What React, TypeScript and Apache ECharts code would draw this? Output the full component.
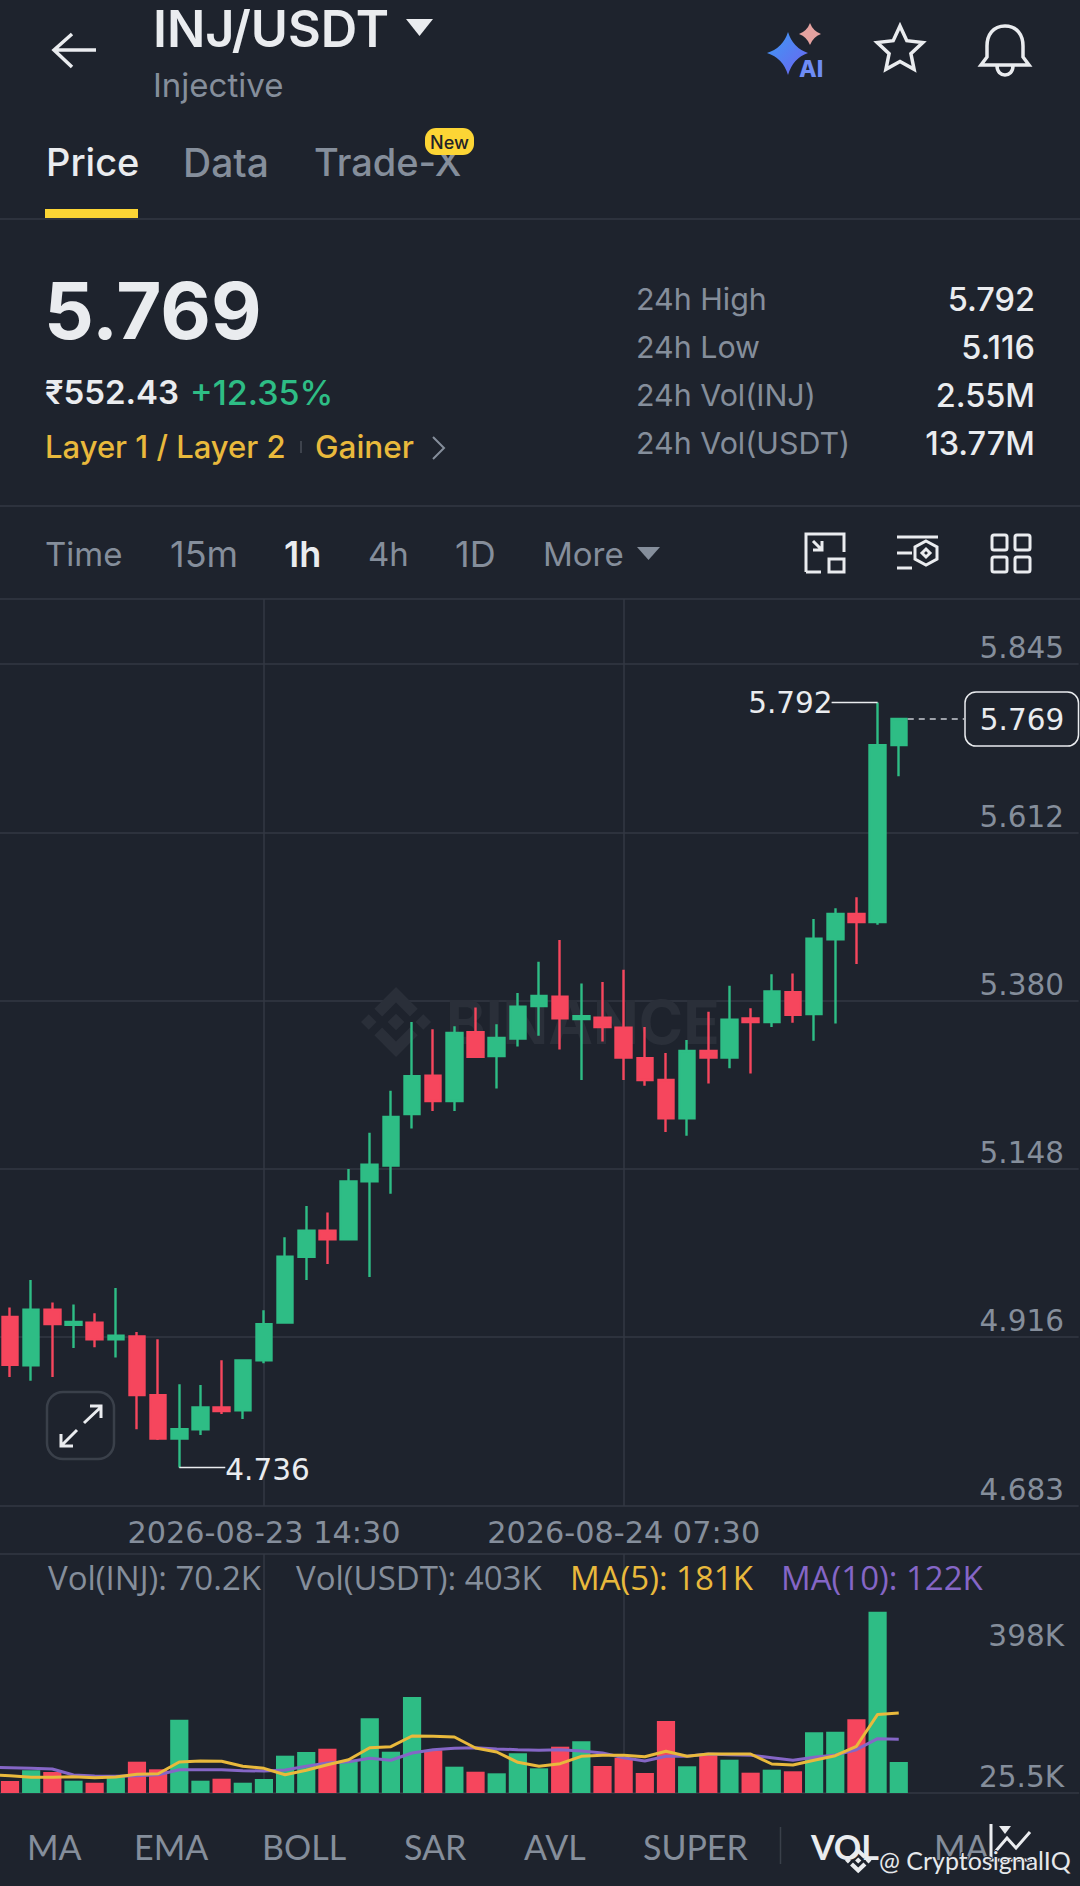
import React, { useEffect, useRef } from "react";
import * as echarts from "echarts";

const times = [
  "2026-08-23 01:30","2026-08-23 02:30","2026-08-23 03:30","2026-08-23 04:30","2026-08-23 05:30","2026-08-23 06:30","2026-08-23 07:30","2026-08-23 08:30","2026-08-23 09:30","2026-08-23 10:30","2026-08-23 11:30","2026-08-23 12:30","2026-08-23 13:30","2026-08-23 14:30",
  "2026-08-23 15:30","2026-08-23 16:30","2026-08-23 17:30","2026-08-23 18:30","2026-08-23 19:30","2026-08-23 20:30","2026-08-23 21:30","2026-08-23 22:30","2026-08-23 23:30","2026-08-24 00:30","2026-08-24 01:30","2026-08-24 02:30","2026-08-24 03:30","2026-08-24 04:30","2026-08-24 05:30","2026-08-24 06:30","2026-08-24 07:30",
  "2026-08-24 08:30","2026-08-24 09:30","2026-08-24 10:30","2026-08-24 11:30","2026-08-24 12:30","2026-08-24 13:30","2026-08-24 14:30","2026-08-24 15:30","2026-08-24 16:30","2026-08-24 17:30","2026-08-24 18:30","2026-08-24 19:30","2026-08-24 20:30",
  "2026-08-24 21:30","2026-08-24 22:30","2026-08-24 23:30","2026-08-25 00:30","2026-08-25 01:30","2026-08-25 02:30","2026-08-25 03:30","2026-08-25 04:30",
];
const shownTimes = ["2026-08-23 14:30", "2026-08-24 07:30"];

// open, close, low, high (the first candle lies just off the left edge, only the MA lines reach into view from it)
const candles = [
  [4.950,4.945,4.930,4.960],
  [4.944,4.878,4.861,4.957],[4.877,4.954,4.856,4.995],[4.954,4.934,4.861,4.964],[4.933,4.937,4.901,4.961],[4.936,4.913,4.902,4.949],
  [4.913,4.918,4.888,4.984],[4.917,4.836,4.789,4.923],[4.836,4.776,4.774,4.913],[4.776,4.789,4.736,4.851],[4.789,4.819,4.781,4.850],
  [4.819,4.814,4.810,4.884],[4.815,4.884,4.803,4.884],[4.884,4.934,4.880,4.953],[4.936,5.027,4.936,5.054],[5.027,5.063,4.995,5.097],
  [5.063,5.051,5.017,5.088],[5.051,5.131,5.051,5.148],[5.131,5.154,4.999,5.198],[5.153,5.220,5.114,5.256],[5.224,5.276,5.204,5.351],
  [5.277,5.242,5.228,5.341],[5.242,5.336,5.228,5.345],[5.337,5.303,5.302,5.371],[5.304,5.329,5.259,5.348],[5.328,5.372,5.317,5.391],
  [5.373,5.387,5.332,5.434],[5.386,5.356,5.313,5.464],[5.355,5.359,5.271,5.404],[5.357,5.344,5.324,5.406],[5.343,5.302,5.271,5.423],
  [5.301,5.271,5.263,5.344],[5.271,5.218,5.199,5.308],[5.218,5.311,5.194,5.326],[5.311,5.302,5.266,5.365],[5.302,5.354,5.287,5.401],
  [5.356,5.351,5.280,5.370],[5.351,5.393,5.344,5.417],[5.392,5.361,5.350,5.418],[5.362,5.466,5.325,5.493],[5.465,5.500,5.349,5.508],
  [5.500,5.489,5.431,5.523],[5.489,5.733,5.485,5.792],[5.733,5.769,5.690,5.769],
];
const volumes = [30,27.2,51.4,47.6,27.9,23.3,36.2,70.9,53.7,166.0,27.9,32.4,23.3,31.7,84.5,92.9,100.3,71.8,169.2,93.5,217.4,96.7,59.6,48.2,44.6,89.9,55.9,104.9,117.1,61.2,79.3,45.3,163.1,60.5,86.7,75.4,46.0,52.8,49.2,137.5,138.8,166.9,410.6,70.2];
const ma5 = [41,39.2,35.6,35.6,36.9,34.7,36.2,42.4,43.7,70.2,72.5,71.8,60.5,55.9,41.4,51.4,64.1,75.4,102.6,104.9,129.1,128.4,126.8,101.9,92.9,69.5,60.5,66.4,83.1,85.4,85.4,82.2,94.5,83.1,88.3,88.3,88.3,65.7,63.4,74.1,84.5,105.8,178,181];
const ma10 = [58,57.3,55.9,54.4,40.8,38.5,37.8,39.2,41.4,52.8,52.8,52.8,50.5,49.8,52.1,60.5,67.9,70.9,78.6,74.1,90.6,98.1,101.2,102.6,99.7,98.1,96.7,98.1,95.1,90.6,80,72.5,83.1,83.1,88.3,86.7,85.4,80,74.1,80.9,86.1,98.1,123,122];
const priceTicks = [4.683, 4.916, 5.148, 5.38, 5.612, 5.845];
const volTicks = [25.5, 398];
const annotations: [number, number, string][] = [[42, 5.792, "high"], [9, 4.736, "low"], [43, 5.769, "last"]];

const statRows = [
  ["24h High", "5.792"],
  ["24h Low", "5.116"],
  ["24h Vol(INJ)", "2.55M"],
  ["24h Vol(USDT)", "13.77M"],
];
const intervals: [string, number, boolean, number][] = [["Time", 45, false, 33], ["15m", 170, false, 36], ["1h", 284, true, 36], ["4h", 368, false, 33], ["1D", 455, false, 36], ["More", 543, false, 33]];
const indicators: [string, number, boolean][] = [["MA", 27, false], ["EMA", 134, false], ["BOLL", 262, false], ["SAR", 404, false], ["AVL", 524, false], ["SUPER", 643, false], ["VOL", 811, true], ["MA", 934, false]];

const BG = "#1E232D";
const GREEN = "#2EBD85";
const RED = "#F6465D";
const GRIDC = "#333943";
const GRAY = "#858E9B";
const WHITE = "#EAECEF";
const YELLOW = "#E9B93C";
const PURPLE = "#8566C6";
const AXIS_FONT = "'DejaVu Sans'";

echarts.graphic.registerShape("binanceLogo", echarts.graphic.extendPath(
  "M63 0L102 39L88 53L63 28L38 53L24 39ZM63 126L102 87L88 73L63 98L38 73L24 87ZM0 63L14 49L28 63L14 77ZM126 63L112 49L98 63L112 77ZM63 48L78 63L63 78L48 63Z", {}));
echarts.graphic.registerShape("bellIcon", echarts.graphic.extendPath(
  "M1005 26C993 26 987 35 987 46L987 57L981 65L1029 65L1023 57L1023 46C1023 35 1017 26 1005 26ZM997 66C997 78 1013 78 1013 66", {}));
echarts.graphic.registerShape("sparkBig", echarts.graphic.extendPath("M788 32Q793 48 808 53Q793 58 788 75Q783 58 767 53Q783 48 788 32Z", {}));
echarts.graphic.registerShape("sparkSmall", echarts.graphic.extendPath("M810 23Q813 31 821 34Q813 37 810 45Q807 37 799 34Q807 31 810 23Z", {}));
echarts.graphic.registerShape("iconSwap", echarts.graphic.extendPath(
  "M806 572L806 534L844 534L844 552M806 572L821 572M829 559H844V572H829ZM813 541L822 550M822 541L822 550L813 550", {}));
echarts.graphic.registerShape("iconSettings", echarts.graphic.extendPath(
  "M897 537H938M897 553H912M897 568H912M926 541L937 547V559L926 565L915 559V547ZM926 549L930 553L926 557L922 553Z", {}));
echarts.graphic.registerShape("iconExpand", echarts.graphic.extendPath(
  "M84 1423L101 1407M90 1406H101V1418M77 1430L61 1446M61 1434V1446H73", {}));
echarts.graphic.registerShape("iconChart", echarts.graphic.extendPath(
  "M991 1824V1860H1032M995 1852L1007 1838L1016 1848L1030 1832", {}));
echarts.graphic.registerShape("iconBack", echarts.graphic.extendPath("M96 50H55M72 34L54 50L72 67", {}));

type TOpt = { align?: string; weight?: number; font?: string; z?: number; stroke?: string; lw?: number };
const txt = (x: number, y: number, text: string, size: number, fill: string, o: TOpt = {}) => ({
  type: "text", x, y, z: o.z ?? 5,
  style: {
    text, fill, fontSize: size, fontFamily: o.font ?? "Inter", fontWeight: o.weight ?? 400,
    textAlign: o.align ?? "left", textVerticalAlign: "middle", align: o.align ?? "left", verticalAlign: "middle",
    stroke: o.stroke, lineWidth: o.lw,
  },
});
const hline = (y: number, x1 = 0, x2 = 1080, c = GRIDC) => ({ type: "line", z: 1, shape: { x1, y1: y, x2, y2: y }, style: { stroke: c, lineWidth: 1.5 } });
const shape = (type: string, style: any, extra: any = {}) => ({ type, z: 5, style, ...extra });

function graphics(): any[] {
  const rowsY = [299, 347, 395, 443.3];
  const els: any[] = [
    // header
    shape("iconBack", { stroke: WHITE, lineWidth: 3.5, fill: "none" }),
    txt(153, 28, "INJ/USDT", 50.5, WHITE, { weight: 600 }),
    { type: "polygon", z: 5, shape: { points: [[406, 19], [433, 19], [419.5, 36]] }, style: { fill: WHITE } },
    txt(153, 85, "Injective", 33, GRAY),
    shape("sparkBig", { fill: new echarts.graphic.LinearGradient(0, 0, 1, 1, [{ offset: 0, color: "#3C9BF5" }, { offset: 1, color: "#6E62EE" }]) }),
    shape("sparkSmall", { fill: "#E5A2A0" }),
    txt(799, 69, "AI", 23, "#6E8CF5", { weight: 800 }),
    { type: "polygon", z: 5, shape: { points: [[900, 26], [906.8, 40.7], [922.8, 42.6], [910.9, 53.6], [914.1, 69.4], [900, 61.5], [885.9, 69.4], [889.1, 53.6], [877.2, 42.6], [893.2, 40.7]] }, style: { stroke: WHITE, lineWidth: 3.5, fill: "none" } },
    shape("bellIcon", { stroke: WHITE, lineWidth: 3.5, fill: "none" }),
    // tabs
    txt(46, 162, "Price", 38, WHITE, { weight: 500 }),
    txt(183, 162, "Data", 39, GRAY, { weight: 500 }),
    txt(314, 162, "Trade-X", 38, GRAY, { weight: 500 }),
    { type: "rect", z: 6, shape: { x: 425, y: 128, width: 49, height: 27, r: 11 }, style: { fill: "#FCD535" } },
    txt(449.5, 142, "New", 18, "#1E2329", { align: "center", weight: 500, z: 7 }),
    { type: "rect", z: 5, shape: { x: 45, y: 209, width: 93, height: 9 }, style: { fill: "#FCD535" } },
    hline(219), hline(506), hline(599), hline(1554),
    // quote
    txt(44, 310, "5.769", 78, WHITE, { weight: 700 }),
    txt(45, 392, "₹552.43", 33, WHITE, { weight: 600 }),
    txt(190, 392, "+12.35%", 34, GREEN, { weight: 500 }),
    txt(45, 446, "Layer 1 / Layer 2", 31, YELLOW, { weight: 500 }),
    { type: "line", z: 5, shape: { x1: 301, y1: 441, x2: 301, y2: 453 }, style: { stroke: "#4A4F58", lineWidth: 1.5 } },
    txt(315, 446, "Gainer", 31.5, YELLOW, { weight: 500 }),
    { type: "polyline", z: 5, shape: { points: [[433, 437], [444, 448], [433, 459]] }, style: { stroke: GRAY, lineWidth: 2, fill: "none" } },
    ...statRows.flatMap((r, i) => [
      txt(636, rowsY[i], r[0], 30.4, GRAY),
      txt(1035, rowsY[i] + 0.5, r[1], 32.5, WHITE, { align: "right", weight: 500 }),
    ]),
    // interval row
    ...intervals.map(([s, x, on, size]) => txt(x, 554, s, size, on ? WHITE : GRAY, { weight: on ? 600 : 400 })),
    { type: "polygon", z: 5, shape: { points: [[637, 547], [660, 547], [648.5, 560]] }, style: { fill: GRAY } },
    shape("iconSwap", { stroke: WHITE, lineWidth: 3, fill: "none" }),
    shape("iconSettings", { stroke: WHITE, lineWidth: 3, fill: "none" }),
    ...[[992, 535], [1015, 535], [992, 557], [1015, 557]].map(([x, y]) => ({ type: "rect", z: 5, shape: { x, y, width: 15, height: 15, r: 2 }, style: { stroke: WHITE, lineWidth: 3, fill: "none" } })),
    // watermark
    { type: "binanceLogo", z: 1, x: 361, y: 987, scaleX: 0.556, scaleY: 0.556, style: { fill: "#2A2F39" } },
    txt(446, 1022, "BINANCE", 60, "#2A2F39", { weight: 700, z: 1 }),
    // expand button
    { type: "rect", z: 5, shape: { x: 47, y: 1392, width: 67, height: 67, r: 16 }, style: { stroke: "#3A404A", lineWidth: 2.5, fill: BG } },
    shape("iconExpand", { stroke: WHITE, lineWidth: 3, fill: "none" }),
    // volume legend
    txt(48, 1577, "Vol(INJ): 70.2K", 33, GRAY, { font: "Open Sans" }),
    txt(296, 1577, "Vol(USDT): 403K", 33, GRAY, { font: "Open Sans" }),
    txt(570, 1577, "MA(5): 181K", 33, YELLOW, { font: "Open Sans" }),
    txt(781, 1577, "MA(10): 122K", 33, PURPLE, { font: "Open Sans" }),
    // bottom bar
    ...indicators.map(([s, x, on]) => txt(x, 1846, s, 34, on ? WHITE : GRAY, { font: "Lato", weight: on ? 700 : 400 })),
    { type: "line", z: 5, shape: { x1: 780.5, y1: 1827, x2: 780.5, y2: 1864 }, style: { stroke: "#3A404A", lineWidth: 1.5 } },
    shape("iconChart", { stroke: WHITE, lineWidth: 3, fill: "none" }),
    { type: "polygon", z: 5, shape: { points: [[999, 1826], [1011, 1826], [1005, 1834]] }, style: { fill: WHITE } },
    { type: "binanceLogo", z: 8, x: 845, y: 1848, scaleX: 0.21, scaleY: 0.2, style: { fill: WHITE } },
    txt(879, 1860, "@ CryptosignalIQ", 25, "#E6E8EB", { font: "Lato", z: 9, stroke: BG, lw: 2 }),
  ];
  return els;
}

function renderAnnotation(_p: any, api: any) {
  const pos = api.coord([api.value(0), api.value(1)]);
  const val = (api.value(1) as number).toFixed(3);
  const kind = annotations[_p.dataIndex][2];
  const label = (x: number, y: number, align: string) => ({
    type: "text",
    style: { text: val, x, y, fill: WHITE, fontSize: 29.5, fontFamily: AXIS_FONT, textAlign: align, textVerticalAlign: "middle", align, verticalAlign: "middle" },
  });
  const stroke = { stroke: WHITE, lineWidth: 1.5 };
  if (kind === "high") {
    return { type: "group", children: [
      { type: "line", shape: { x1: pos[0] - 46, y1: pos[1], x2: pos[0], y2: pos[1] }, style: stroke },
      label(pos[0] - 45, pos[1] + 1, "right"),
    ] };
  }
  if (kind === "low") {
    return { type: "group", children: [
      { type: "line", shape: { x1: pos[0], y1: pos[1], x2: pos[0] + 46, y2: pos[1] }, style: stroke },
      label(pos[0] + 46, pos[1] + 2, "left"),
    ] };
  }
  return { type: "group", children: [
    { type: "line", shape: { x1: pos[0] + 9, y1: pos[1], x2: 964, y2: pos[1] }, style: { stroke: "#C8CCD2", lineWidth: 1.5, lineDash: [6, 5] } },
    { type: "rect", shape: { x: 965, y: pos[1] - 27, width: 113.5, height: 54, r: 11 }, style: { stroke: WHITE, lineWidth: 1.5, fill: BG } },
    label(1022, pos[1] + 1, "center"),
  ] };
}

export default function App() {
  const ref = useRef<HTMLDivElement>(null);
  useEffect(() => {
    document.body.style.margin = "0";
    document.body.style.background = BG;
    const chart = echarts.init(ref.current!, null, { renderer: "svg" });
    const xCommon = {
      type: "category",
      data: times,
      axisTick: { show: false },
      splitLine: {
        show: true,
        alignWithLabel: true,
        interval: (_i: number, v: string) => shownTimes.includes(v),
        lineStyle: { color: GRIDC, width: 1.5 },
      },
    };
    chart.setOption({
      animation: false,
      backgroundColor: BG,
      grid: [
        { left: -21.74, top: 599, width: 1100.36, height: 907, outerBoundsMode: "none" },
        { left: -21.74, top: 1554, width: 1100.36, height: 239, outerBoundsMode: "none" },
      ],
      xAxis: [
        {
          ...xCommon, gridIndex: 0,
          axisLine: { show: false },
          axisLabel: {
            show: true, margin: 11, fontSize: 30.3, fontFamily: AXIS_FONT, color: GRAY,
            interval: (_i: number, v: string) => shownTimes.includes(v),
          },
        },
        {
          ...xCommon, gridIndex: 1,
          axisLine: { show: true, lineStyle: { color: GRIDC, width: 1.5 } },
          axisLabel: { show: false },
        },
      ],
      yAxis: [
        {
          gridIndex: 0, type: "value", position: "right", min: 4.683, max: 5.9347,
          axisLine: { show: false },
          axisTick: { show: false, customValues: priceTicks },
          splitLine: { show: true, lineStyle: { color: GRIDC, width: 1.5 } },
          axisLabel: {
            inside: true, customValues: priceTicks, margin: 14.6, fontSize: 29.5, fontFamily: AXIS_FONT, color: GRAY,
            verticalAlign: "bottom", padding: [0, 0, 1, 0],
            formatter: (v: number) => v.toFixed(3),
          },
        },
        { gridIndex: 1, type: "value", position: "left", min: 0, max: 541.3, show: false, splitLine: { show: false } },
        {
          gridIndex: 1, type: "value", position: "right", min: 25.5, max: 656.9,
          axisLine: { show: false },
          axisTick: { show: false, customValues: volTicks },
          splitLine: { show: false },
          axisLabel: {
            inside: true, customValues: volTicks, margin: 14.6, fontSize: 29.5, fontFamily: AXIS_FONT, color: GRAY,
            verticalAlign: "bottom", padding: [0, 0, 1, 0],
            formatter: (v: number) => `${v}K`,
          },
        },
      ],
      graphic: { elements: graphics() },
      series: [
        {
          type: "candlestick", xAxisIndex: 0, yAxisIndex: 0, data: candles, barWidth: 16, z: 3,
          itemStyle: { color: GREEN, color0: RED, borderColor: GREEN, borderColor0: RED, borderWidth: 2.4 },
        },
        {
          type: "bar", xAxisIndex: 1, yAxisIndex: 1, data: volumes, barWidth: 18.2, z: 3,
          itemStyle: { color: (p: any) => (candles[p.dataIndex][1] >= candles[p.dataIndex][0] ? GREEN : RED) },
        },
        { type: "line", xAxisIndex: 1, yAxisIndex: 1, data: ma10, showSymbol: false, symbol: "none", z: 4, lineStyle: { color: PURPLE, width: 3 } },
        { type: "line", xAxisIndex: 1, yAxisIndex: 1, data: ma5, showSymbol: false, symbol: "none", z: 5, lineStyle: { color: YELLOW, width: 3 } },
        {
          type: "custom", xAxisIndex: 0, yAxisIndex: 0, data: annotations.map((a) => [a[0], a[1]]),
          encode: { x: 0, y: 1 }, renderItem: renderAnnotation, clip: false, z: 6, silent: true,
        },
      ],
    });
    return () => chart.dispose();
  }, []);
  return <div ref={ref} style={{ position: "absolute", left: 0, top: 0, width: 1080, height: 1886 }} />;
}
